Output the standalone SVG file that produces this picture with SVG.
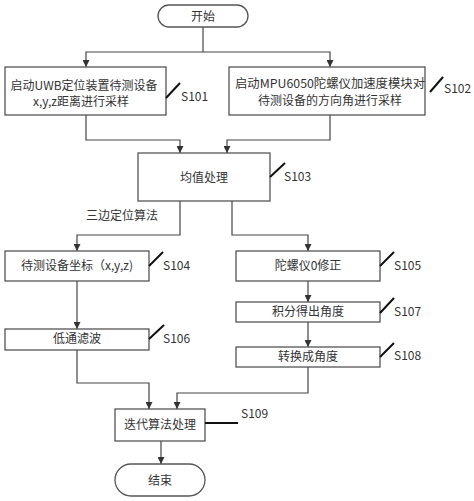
<svg xmlns="http://www.w3.org/2000/svg" width="474" height="501" viewBox="0 0 474 501">
<defs>
<marker id="arr" viewBox="0 0 8 8" refX="8" refY="4" markerWidth="7" markerHeight="7" markerUnits="userSpaceOnUse" orient="auto">
<path d="M0,0 L8,4 L0,8 z" fill="#333"/>
</marker>
<style>
.box{fill:#fff;stroke:#555;stroke-width:1.3}
.t{font-family:"Noto Sans CJK SC","Noto Sans",sans-serif;font-size:12px;fill:#333;text-anchor:middle}
.lb{font-family:"Noto Sans CJK SC","Noto Sans",sans-serif;font-size:12px;fill:#333}
.sl{stroke:#111;stroke-width:2;fill:none}
.c{fill:none;stroke:#444;stroke-width:1.2}
</style>
</defs>
<rect width="474" height="501" fill="#fff"/>

<g id="connectors">
<polyline class="c" points="203,27 203,52"/>
<polyline class="c" points="203,52 86,52 86,67" marker-end="url(#arr)"/>
<polyline class="c" points="203,52 330,52 330,67" marker-end="url(#arr)"/>
<polyline class="c" points="86,115 86,140 180,140 180,153" marker-end="url(#arr)"/>
<polyline class="c" points="330,115 330,140 227,140 227,153" marker-end="url(#arr)"/>
<polyline class="c" points="180,201 180,235 77,235 77,251" marker-end="url(#arr)"/>
<polyline class="c" points="232,201 232,235 308,235 308,251" marker-end="url(#arr)"/>
<polyline class="c" points="77,281 77,329" marker-end="url(#arr)"/>
<polyline class="c" points="308,281 308,302" marker-end="url(#arr)"/>
<polyline class="c" points="308,322 308,347" marker-end="url(#arr)"/>
<polyline class="c" points="77,350 77,383 149,383 149,409" marker-end="url(#arr)"/>
<polyline class="c" points="308,367 308,393 177,393 177,409" marker-end="url(#arr)"/>
<polyline class="c" points="161,441 161,464" marker-end="url(#arr)"/>
<text class="lb" x="86" y="220">三边定位算法</text>
</g>

<g id="start">
<rect class="box" x="158" y="5" width="90" height="22" rx="11"/>
<text class="t" x="203" y="21">开始</text>
</g>

<g id="s101">
<rect class="box" x="5" y="67" width="161" height="48"/>
<text class="t" x="84" y="90" textLength="147" lengthAdjust="spacingAndGlyphs">启动UWB定位装置待测设备</text>
<text class="t" x="81" y="106">x,y,z距离进行采样</text>
<line class="sl" x1="166" y1="98" x2="180" y2="83"/>
<text class="lb" x="181" y="101">S101</text>
</g>

<g id="s102">
<rect class="box" x="229" y="67" width="196" height="48"/>
<text class="t" x="330" y="88" textLength="190" lengthAdjust="spacingAndGlyphs">启动MPU6050陀螺仪加速度模块对</text>
<text class="t" x="330" y="105">待测设备的方向角进行采样</text>
<line class="sl" x1="430" y1="92" x2="443" y2="77"/>
<text class="lb" x="444" y="93">S102</text>
</g>

<g id="s103">
<rect class="box" x="138" y="153" width="132" height="48"/>
<text class="t" x="204" y="182">均值处理</text>
<line class="sl" x1="270" y1="177" x2="285" y2="163"/>
<text class="lb" x="284" y="181">S103</text>
</g>

<g id="s104">
<rect class="box" x="5" y="251" width="144" height="30"/>
<text class="t" x="77" y="270">待测设备坐标（x,y,z)</text>
<line class="sl" x1="149" y1="266" x2="163" y2="252"/>
<text class="lb" x="163" y="270">S104</text>
</g>

<g id="s105">
<rect class="box" x="236" y="251" width="144" height="30"/>
<text class="t" x="308" y="270">陀螺仪0修正</text>
<line class="sl" x1="380" y1="266" x2="394" y2="252"/>
<text class="lb" x="394" y="270">S105</text>
</g>

<g id="s107">
<rect class="box" x="236" y="302" width="144" height="20"/>
<text class="t" x="308" y="316">积分得出角度</text>
<line class="sl" x1="380" y1="313" x2="394" y2="298"/>
<text class="lb" x="394" y="316">S107</text>
</g>

<g id="s106">
<rect class="box" x="5" y="329" width="144" height="21"/>
<text class="t" x="77" y="343">低通滤波</text>
<line class="sl" x1="149" y1="339" x2="164" y2="325"/>
<text class="lb" x="163" y="343">S106</text>
</g>

<g id="s108">
<rect class="box" x="236" y="347" width="144" height="20"/>
<text class="t" x="308" y="361">转换成角度</text>
<line class="sl" x1="380" y1="357" x2="394" y2="343"/>
<text class="lb" x="394" y="360">S108</text>
</g>

<g id="s109">
<rect class="box" x="115" y="409" width="90" height="32"/>
<text class="t" x="160" y="429">迭代算法处理</text>
<line class="sl" x1="205" y1="423" x2="238" y2="423"/>
<text class="lb" x="241" y="418">S109</text>
</g>

<g id="end">
<rect class="box" x="115" y="464" width="90" height="32" rx="16"/>
<text class="t" x="160" y="485">结束</text>
</g>
</svg>
